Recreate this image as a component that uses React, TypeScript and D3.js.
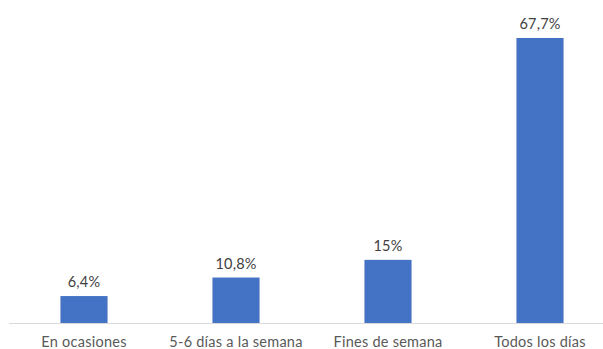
import React from "react";
import * as d3 from "d3";

const categories = ["En ocasiones", "5-6 días a la semana", "Fines de semana", "Todos los días"];
const values = [6.4, 10.8, 15, 67.7];
const valueLabels = ["6,4%", "10,8%", "15%", "67,7%"];

const W = 603;
const H = 349;

export default function App() {
  const x = d3
    .scaleBand<string>()
    .domain(categories)
    .range([8, 616])
    .paddingInner(0.69)
    .paddingOuter(0.345);
  const y = d3.scaleLinear().domain([0, 70]).range([323, 28.3]);
  const font = "Lato, 'Open Sans', sans-serif";
  return (
    <svg
      width={W}
      height={H}
      style={{ position: "absolute", left: 0, top: 0, background: "#fff" }}
    >
      {categories.map((c, i) => (
        <rect
          key={c}
          x={x(c)}
          y={y(values[i])}
          width={x.bandwidth()}
          height={y(0) - y(values[i])}
          fill="#4472C4"
        />
      ))}
      <line x1={9} x2={603} y1={y(0) + 0.5} y2={y(0) + 0.5} stroke="#d9d9d9" strokeWidth={1} />
      {categories.map((c, i) => (
        <text
          key={"v" + c}
          x={(x(c) as number) + x.bandwidth() / 2}
          y={y(values[i]) - 9}
          textAnchor="middle"
          fontFamily={font}
          fontSize={14.5}
          letterSpacing={0.2}
          fill="#404040"
        >
          {valueLabels[i]}
        </text>
      ))}
      {categories.map((c) => (
        <text
          key={"c" + c}
          x={(x(c) as number) + x.bandwidth() / 2}
          y={346.5}
          textAnchor="middle"
          fontFamily={font}
          fontSize={14.5}
          letterSpacing={0.25}
          fill="#595959"
        >
          {c}
        </text>
      ))}
    </svg>
  );
}
